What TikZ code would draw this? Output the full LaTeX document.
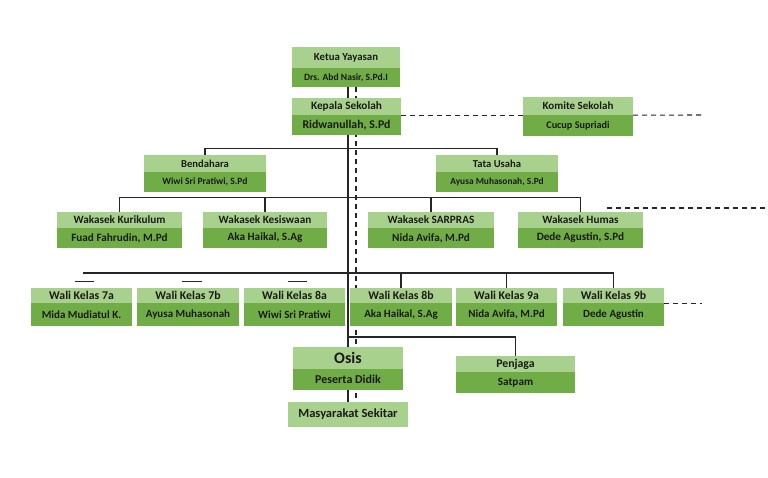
\documentclass[tikz,border=0pt]{standalone}
\usepackage{fontspec}
\setmainfont{Carlito}
\usetikzlibrary{backgrounds,calc}
\definecolor{lg}{HTML}{A9D18E}
\definecolor{dg}{HTML}{70AD47}
\definecolor{ln}{HTML}{262626}
\definecolor{tx}{HTML}{1A1A1A}
\newcommand{\fs}[1]{\fontsize{#1}{#1}\selectfont}
\newcommand{\obox}[8]{%
  \node[hd, minimum width={(#3-#2)*1pt}, minimum height={(#5-#4)*1pt}] (#1) at ({(#2+#3)/2},{(#4+#5)/2}) {#7};
  \node[nm, minimum width={(#3-#2)*1pt}, minimum height={(#6-#5)*1pt}] (#1n) at ({(#2+#3)/2},{(#5+#6)/2}) {#8};
}
\tikzset{
  hd/.style={fill=lg, inner sep=0pt, text=tx, font=\bfseries},
  nm/.style={fill=dg, inner sep=0pt, text=tx, font=\bfseries},
  cn/.style={draw=ln, line width=1.2pt},
  dsh/.style={draw=ln, line width=1.1pt, dash pattern=on 5pt off 4pt}
}
\begin{document}
\begin{tikzpicture}[x=1pt, y=-1pt]
\useasboundingbox (0,0) rectangle (768,478);
\obox{ket}{292}{400}{47}{68}{87}{\fs{10.8}Ketua Yayasan}{\fs{9.6}Drs. Abd Nasir, S.Pd.I}
\obox{kep}{292}{401}{98}{115}{135}{\fs{11.3}Kepala Sekolah}{\fs{11.8}Ridwanullah, S.Pd}
\obox{kom}{523}{633}{97}{115}{136}{\fs{11}Komite Sekolah}{\fs{10.2}Cucup Supriadi}
\obox{ben}{144}{266}{155}{172}{192}{\fs{10.6}Bendahara}{\fs{9.6}Wiwi Sri Pratiwi, S.Pd}
\obox{tat}{436}{558}{155}{172}{192}{\fs{10.6}Tata Usaha}{\fs{9.4}Ayusa Muhasonah, S.Pd}
\obox{kur}{57}{182}{212}{228}{248}{\fs{11.2}Wakasek Kurikulum}{\fs{11.2}Fuad Fahrudin, M.Pd}
\obox{kes}{203}{327}{212}{228}{248}{\fs{11.2}Wakasek Kesiswaan}{\fs{11.2}Aka Haikal, S.Ag}
\obox{sar}{368}{494}{212}{228}{248}{\fs{11.2}Wakasek SARPRAS}{\fs{11.2}Nida Avifa, M.Pd}
\obox{hum}{518}{643}{212}{228}{248}{\fs{11.2}Wakasek Humas}{\fs{11.2}Dede Agustin, S.Pd}
\obox{wa}{31}{132}{288}{303}{326}{\fs{11.8}Wali Kelas 7a}{\fs{11}Mida Mudiatul K.}
\obox{wb}{137}{239}{288}{303}{326}{\fs{11.8}Wali Kelas 7b}{\fs{11}Ayusa Muhasonah}
\obox{wc}{244}{345}{288}{303}{326}{\fs{11.8}Wali Kelas 8a}{\fs{11}Wiwi Sri Pratiwi}
\obox{wd}{350}{452}{288}{303}{326}{\fs{11.8}Wali Kelas 8b}{\fs{11}Aka Haikal, S.Ag}
\obox{we}{456}{557}{288}{303}{326}{\fs{11.8}Wali Kelas 9a}{\fs{11}Nida Avifa, M.Pd}
\obox{wf}{563}{664}{288}{303}{326}{\fs{11.8}Wali Kelas 9b}{\fs{11}Dede Agustin}
\obox{osi}{293}{403}{347}{369}{390}{\fs{16}Osis}{\fs{12}Peserta Didik}
\obox{pen}{456}{575}{356}{372}{393}{\fs{11.8}Penjaga}{\fs{11.2}Satpam}
\node[hd, minimum width=120pt, minimum height=25pt, font=\bfseries\fs{12.5}] (mas) at (348,414.5) {Masyarakat Sekitar};
\coordinate (sp) at (348,0);
\coordinate (ds) at (356,0);
\coordinate (ke) at (702,115);
\coordinate (h1) at (607,208);
\coordinate (h2) at (767,208);
\coordinate (w0) at (83,273);
\coordinate (pj) at (348,337);
\begin{scope}[on background layer]
\draw[cn] (ketn.south -| sp) -- (mas.north -| sp);
\draw[dsh] (ketn.south -| ds) -- (mas.north -| ds);
\draw[dsh] (kep.south east) -- (kom.south west);
\draw[dsh] (kom.south east) -- (ke);
\draw[cn] (ben.north) -- ++(0,-6) -| (tat.north);
\draw[cn] (kur.north) -- ++(0,-14) -| (hum.north);
\draw[cn] (kes.north) -- ++(0,-14);
\draw[cn] (sar.north) -- ++(0,-14);
\draw[dsh] (h1) -- (h2);
\draw[cn] (w0) -| (wf.north);
\draw[cn] (wd.north) -- (wd.north |- w0);
\draw[cn] (we.north) -- (we.north |- w0);
\draw[cn] ($(wa.north)+(-7,-6)$) -- ++(19,0);
\draw[cn] ($(wb.north)+(-6,-6)$) -- ++(20,0);
\draw[cn] ($(wc.north)+(-7,-6)$) -- ++(19,0);
\draw[dsh] (wf.south east) -- ++(38,0);
\draw[cn] (pj) -| (pen.north);
\end{scope}
\end{tikzpicture}
\end{document}
